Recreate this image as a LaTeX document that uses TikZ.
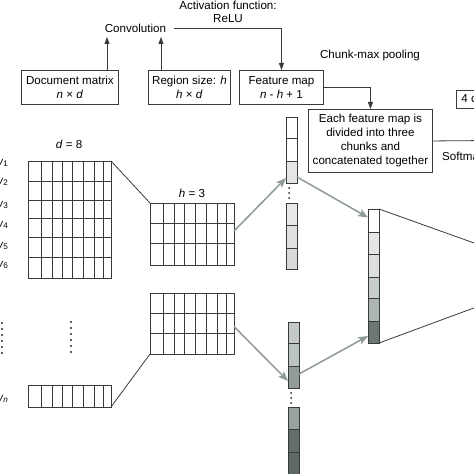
\documentclass[tikz,border=0pt]{standalone}
\usepackage{fontspec}
\setmainfont{Liberation Sans}
\usetikzlibrary{arrows.meta,calc}
\definecolor{arrg}{HTML}{8E9A97}
\definecolor{lc}{HTML}{3A3A3A}
\definecolor{ga}{HTML}{E3E6E5}
\definecolor{gb}{HTML}{E8EAEA}
\definecolor{gc}{HTML}{DDE0DF}
\definecolor{gd}{HTML}{D8DBDA}
\definecolor{ge}{HTML}{C2C9C6}
\definecolor{gf}{HTML}{BCC4C1}
\definecolor{gg}{HTML}{929D9A}
\definecolor{gh}{HTML}{98A3A0}
\definecolor{gi}{HTML}{626E6B}
\definecolor{gj}{HTML}{5D6966}
\definecolor{gk}{HTML}{E4E6E6}
\definecolor{gl}{HTML}{DCDFDE}
\definecolor{gm}{HTML}{C8CECB}
\definecolor{gn}{HTML}{ADB6B3}
\definecolor{go}{HTML}{6B7774}
\newcommand{\colfr}{0.156,0.295,0.415,0.54,0.667,0.8,0.908}
\begin{document}
\begin{tikzpicture}[x=1bp,y=-1bp,
  txt/.style={font=\fontsize{11.6bp}{14bp}\selectfont,inner sep=0pt},
  box/.style={draw=lc,line width=0.9bp,font=\fontsize{11.6bp}{14bp}\selectfont,align=center,inner sep=0pt,anchor=north west},
  grid/.style={draw=lc,line width=0.8bp,inner sep=0pt,outer sep=0pt,anchor=north west},
  cell/.style={draw=lc,line width=0.8bp,minimum width=11bp,minimum height=#1,inner sep=0pt,outer sep=0pt,anchor=north west},
  cell/.default=22bp,
  blk/.style={draw=lc,line width=0.9bp,-{Triangle[length=7bp,width=5bp]}},
  gar/.style={draw=arrg,line width=1.5bp,-{Stealth[length=10bp,width=8bp,inset=2.5bp]}},
  thin/.style={draw=lc,line width=0.8bp},
  dot/.style={fill=black!85}]
\useasboundingbox (0,0) rectangle (474,474);
\clip (0,0) rectangle (474,474);
% top labels
\node[txt] (act) at (228,5) {Activation function:};
\node[txt] (relu) at (228,19) {ReLU};
\node[txt] (conv) at (135.5,28) {Convolution};
\node[txt] (cmp) at (370,56) {Chunk-max pooling};
% boxes
\node[box,minimum width=97bp,minimum height=34bp] (doc) at (21,70) {Document matrix\\\textit{n} × \textit{d}};
\node[box,minimum width=82bp,minimum height=34bp] (reg) at (148,70) {Region size: \textit{h}\\\textit{h} × \textit{d}};
\node[box,minimum width=84bp,minimum height=34bp] (fm) at (239,70) {Feature map\\\textit{n} - \textit{h} + 1};
\node[box,minimum width=124bp,minimum height=63bp] (each) at (308,109) {Each feature map is\\divided into three\\chunks and\\concatenated together};
\node[box,minimum width=40bp,minimum height=18bp,anchor=west,align=left,inner xsep=5bp] (four) at (456,99) {4 c\hspace{20bp}};
\node[txt,anchor=west] (soft) at (442,156) {Softmax};
% top connectors
\coordinate (a1) at (107,37);
\coordinate (a2) at (161,37);
\coordinate (cs) at (174,28);
\coordinate (se) at (490,140.5);
\draw[blk] (doc.north -| a1) -- (a1);
\draw[blk] (reg.north -| a2) -- (a2);
\draw[blk] (cs) -| (fm.north);
\draw[blk] (fm.east) -| (each.north);
\draw[thin] (each.east) -- (se);
% left labels
\foreach \i/\y in {1/163,2/182,3/205,4/225,5/246,6/265}
  \node[txt,anchor=east] (w\i) at (8.5,\y) {\textit{w}\textsubscript{\i}};
\node[txt,anchor=east] (wn) at (8.5,399) {\textit{w}\textsubscript{\textit{n}}};
\foreach \y in {323,329,335,341,347,353} \fill[dot] (2,\y) circle (1.1bp);
\foreach \y in {322,328,334,340,346,352} \fill[dot] (71,\y) circle (1.1bp);
% document matrix
\node[txt] (d8) at (69,144) {\textit{d} = 8};
\node[grid,minimum width=83bp,minimum height=117bp] (M1) at (28,161) {};
\foreach \f in \colfr \draw[thin] ({28+\f*83},161) -- ({28+\f*83},278);
\foreach \y in {181,200,218,237,257} \draw[thin] (28,\y) -- (111,\y);
\node[grid,minimum width=83bp,minimum height=22bp] (V) at (28,385) {};
\foreach \f in \colfr \draw[thin] ({28+\f*83},385) -- ({28+\f*83},407);
% region matrices
\node[txt] (h3) at (192,193) {\textit{h} = 3};
\node[grid,minimum width=84bp,minimum height=62bp] (H1) at (150,203) {};
\foreach \f in \colfr \draw[thin] ({150+\f*84},203) -- ({150+\f*84},265);
\foreach \y in {223,243} \draw[thin] (150,\y) -- (234,\y);
\node[grid,minimum width=84bp,minimum height=61bp] (H2) at (150,293) {};
\foreach \f in \colfr \draw[thin] ({150+\f*84},293) -- ({150+\f*84},354);
\foreach \y in {313,333} \draw[thin] (150,\y) -- (234,\y);
\draw[thin] (M1.north east) -- (H1.north west);
\draw[thin] (V.south east) -- (H2.south west);
% feature map column 1
\node[cell=21bp,fill=white] (f1a) at (286,117) {};
\node[cell=23bp,fill=white] (f1b) at (286,138) {};
\node[cell=22bp,fill=ga] (f1c) at (286,161) {};
\foreach \y in {188,193,198} \fill[dot] (289,\y) circle (1bp);
\node[cell=22bp,fill=gb] (f1d) at (286,203) {};
\node[cell=23bp,fill=gc] (f1e) at (286,225) {};
\node[cell=21bp,fill=gd] (f1f) at (286,248) {};
% feature map column 2
\node[cell=21bp,fill=ge] (f2a) at (288,322) {};
\node[cell=23bp,fill=gf] (f2b) at (288,343) {};
\node[cell=22bp,fill=gg] (f2c) at (288,366) {};
\foreach \y in {393,398,403} \fill[dot] (291,\y) circle (1bp);
\node[cell=22bp,fill=gh] (f2d) at (288,407) {};
\node[cell=23bp,fill=gi] (f2e) at (288,429) {};
\node[cell=24bp,fill=gj] (f2f) at (288,452) {};
% concatenated
\node[cell=23bp,fill=white] (c1) at (368,209) {};
\node[cell=22bp,fill=gk] (c2) at (368,232) {};
\node[cell=23bp,fill=gl] (c3) at (368,254) {};
\node[cell=21bp,fill=gm] (c4) at (368,277) {};
\node[cell=23bp,fill=gn] (c5) at (368,298) {};
\node[cell=22bp,fill=go] (c6) at (368,321) {};
% gray arrows
\draw[gar] ([yshift=3bp]H1.east) -- ([yshift=-6bp]f1c.west);
\draw[gar] ([yshift=-3bp]H2.east) -- ([yshift=-4bp]f2c.west);
\draw[gar] ([yshift=-5bp]f1c.east) -- ([yshift=3bp]c1.west);
\draw[gar] ([yshift=3bp]f2c.east) -- ([yshift=-4bp]c6.west);
% lines to the right
\coordinate (r1) at (490,248.7);
\coordinate (r2) at (490,302);
\draw[thin] (c1.north east) -- (r1);
\draw[thin] (c6.south east) -- (r2);
\end{tikzpicture}
\end{document}
